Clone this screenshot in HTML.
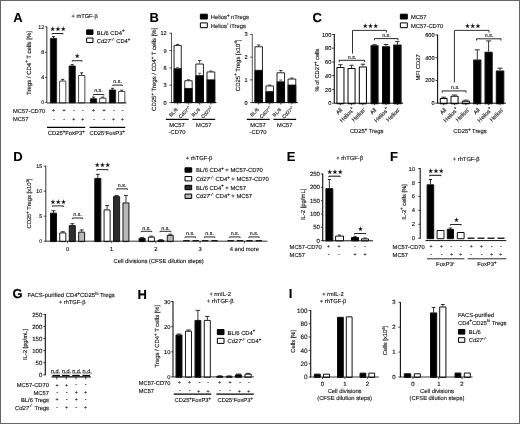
<!DOCTYPE html>
<html lang="en">
<head>
<meta charset="utf-8">
<title>Figure: CD27-CD70 Treg panels A-I</title>
<style>
html,body{margin:0;padding:0;background:#fff;}
body{width:520px;height:424px;overflow:hidden;position:relative;}
#fig{display:block;width:520px;height:424px;box-sizing:border-box;position:absolute;left:0;top:0;}
#frame{position:absolute;left:0;top:0;width:520px;height:424px;box-sizing:border-box;border:1px solid #666;pointer-events:none;}
</style>
</head>
<body>
<svg id="fig" width="520" height="424" viewBox="0 0 520 424" text-rendering="geometricPrecision">
<defs><filter id="soft" x="0" y="0" width="520" height="424" filterUnits="userSpaceOnUse"><feGaussianBlur stdDeviation="0.32"/></filter></defs>
<rect x="0" y="0" width="520" height="424" fill="#fff"/>
<g filter="url(#soft)" font-family="'Liberation Sans', Arial, Helvetica, sans-serif" fill="#111" stroke="#111" stroke-width="0.13" stroke-linejoin="round" id="plot">
<text x="13.3" y="22.38" font-size="13" font-weight="bold" fill="#000">A</text>
<text x="84.6" y="18.22" font-size="5.6" text-anchor="middle">+ rhTGF-β</text>
<line x1="46.8" y1="26.43" x2="46.8" y2="102.78" stroke="#111" stroke-width="0.85"/>
<line x1="45" y1="26.8" x2="46.8" y2="26.8" stroke="#111" stroke-width="0.75"/>
<text x="44.2" y="28.71" font-size="5.3" text-anchor="end">12</text>
<line x1="45" y1="52.3" x2="46.8" y2="52.3" stroke="#111" stroke-width="0.75"/>
<text x="44.2" y="54.21" font-size="5.3" text-anchor="end">8</text>
<line x1="45" y1="77.4" x2="46.8" y2="77.4" stroke="#111" stroke-width="0.75"/>
<text x="44.2" y="79.31" font-size="5.3" text-anchor="end">4</text>
<line x1="45" y1="102.4" x2="46.8" y2="102.4" stroke="#111" stroke-width="0.75"/>
<text x="44.2" y="104.31" font-size="5.3" text-anchor="end">0</text>
<line x1="53.5" y1="38" x2="53.5" y2="36.6" stroke="#111" stroke-width="0.85"/>
<line x1="52" y1="36.6" x2="55" y2="36.6" stroke="#111" stroke-width="0.85"/>
<rect x="50.38" y="38.38" width="6.25" height="64.53" fill="#000" stroke="#111" stroke-width="0.75"/>
<line x1="62.7" y1="80.7" x2="62.7" y2="79.4" stroke="#111" stroke-width="0.85"/>
<line x1="61.2" y1="79.4" x2="64.2" y2="79.4" stroke="#111" stroke-width="0.85"/>
<rect x="59.58" y="81.08" width="6.25" height="21.83" fill="#fff" stroke="#111" stroke-width="0.75"/>
<line x1="72.2" y1="65.6" x2="72.2" y2="64.6" stroke="#111" stroke-width="0.85"/>
<line x1="70.7" y1="64.6" x2="73.7" y2="64.6" stroke="#111" stroke-width="0.85"/>
<rect x="69.08" y="65.97" width="6.25" height="36.93" fill="#000" stroke="#111" stroke-width="0.75"/>
<line x1="81.7" y1="75.1" x2="81.7" y2="72.8" stroke="#111" stroke-width="0.85"/>
<line x1="80.2" y1="72.8" x2="83.2" y2="72.8" stroke="#111" stroke-width="0.85"/>
<rect x="78.58" y="75.47" width="6.25" height="27.43" fill="#fff" stroke="#111" stroke-width="0.75"/>
<line x1="93.5" y1="98.3" x2="93.5" y2="97.1" stroke="#111" stroke-width="0.85"/>
<line x1="92" y1="97.1" x2="95" y2="97.1" stroke="#111" stroke-width="0.85"/>
<rect x="90.38" y="98.67" width="6.25" height="4.23" fill="#000" stroke="#111" stroke-width="0.75"/>
<line x1="102.8" y1="97.8" x2="102.8" y2="97.1" stroke="#111" stroke-width="0.85"/>
<line x1="101.3" y1="97.1" x2="104.3" y2="97.1" stroke="#111" stroke-width="0.85"/>
<rect x="99.67" y="98.17" width="6.25" height="4.73" fill="#fff" stroke="#111" stroke-width="0.75"/>
<line x1="112.5" y1="89.6" x2="112.5" y2="88.3" stroke="#111" stroke-width="0.85"/>
<line x1="111" y1="88.3" x2="114" y2="88.3" stroke="#111" stroke-width="0.85"/>
<rect x="109.38" y="89.97" width="6.25" height="12.93" fill="#000" stroke="#111" stroke-width="0.75"/>
<line x1="121.7" y1="91.1" x2="121.7" y2="90.2" stroke="#111" stroke-width="0.85"/>
<line x1="120.2" y1="90.2" x2="123.2" y2="90.2" stroke="#111" stroke-width="0.85"/>
<rect x="118.58" y="91.47" width="6.25" height="11.43" fill="#fff" stroke="#111" stroke-width="0.75"/>
<line x1="46.8" y1="102.9" x2="126.5" y2="102.9" stroke="#111" stroke-width="0.9"/>
<text x="57.9" y="31.3" font-size="6.1" text-anchor="middle" letter-spacing="-0.2" font-family="DejaVu Sans, sans-serif">★★★</text>
<path d="M52.2 34.4 V33.5 H63 V34.4" fill="none" stroke="#111" stroke-width="0.9"/>
<text x="77.1" y="58.3" font-size="6.1" text-anchor="middle" letter-spacing="-0.2" font-family="DejaVu Sans, sans-serif">★</text>
<path d="M72.2 61.6 V60.7 H82 V61.6" fill="none" stroke="#111" stroke-width="0.9"/>
<text x="98.4" y="91.81" font-size="5.3" text-anchor="middle">n.s.</text>
<path d="M93.4 95.4 V94.5 H103.8 V95.4" fill="none" stroke="#111" stroke-width="0.9"/>
<text x="117.6" y="83.21" font-size="5.3" text-anchor="middle">n.s.</text>
<path d="M112.8 86 V85.1 H122.3 V86" fill="none" stroke="#111" stroke-width="0.9"/>
<rect x="86.65" y="29.9" width="6.35" height="4.5" fill="#000" stroke="#000" stroke-width="1"/>
<text x="96.8" y="34.79" font-size="5.8">BL/6 CD4<tspan dy="-2.38" font-size="4.23" font-weight="bold">+</tspan></text>
<rect x="86.65" y="38" width="6.35" height="4.5" fill="#fff" stroke="#000" stroke-width="1"/>
<text x="96.8" y="42.89" font-size="5.8"><tspan font-style="italic">Cd27</tspan><tspan dy="-2.38" font-size="4.23" font-style="italic">-/-</tspan><tspan dy="2.38"> CD4</tspan><tspan dy="-2.38" font-size="4.23" font-weight="bold">+</tspan></text>
<text font-size="6" text-anchor="middle" transform="translate(28.4 63) rotate(-90)" x="0" y="2.16">Tregs / CD4<tspan dy="-2.46" font-size="4.38" font-weight="bold">+</tspan><tspan dy="2.46"> T cells [%]</tspan></text>
<text x="13" y="112.69" font-size="5.8">MC57-CD70</text>
<text x="13" y="121.49" font-size="5.8">MC57</text>
<text x="53.4" y="112.15" font-size="5.2" text-anchor="middle">+</text>
<text x="64" y="112.15" font-size="5.2" text-anchor="middle">+</text>
<text x="74.2" y="111.8" font-size="5.2" text-anchor="middle">-</text>
<text x="82.9" y="111.8" font-size="5.2" text-anchor="middle">-</text>
<text x="93.4" y="112.15" font-size="5.2" text-anchor="middle">+</text>
<text x="104" y="112.15" font-size="5.2" text-anchor="middle">+</text>
<text x="114.2" y="111.8" font-size="5.2" text-anchor="middle">-</text>
<text x="122.5" y="111.8" font-size="5.2" text-anchor="middle">-</text>
<text x="54.2" y="120.6" font-size="5.2" text-anchor="middle">-</text>
<text x="64.2" y="120.6" font-size="5.2" text-anchor="middle">-</text>
<text x="73.8" y="120.95" font-size="5.2" text-anchor="middle">+</text>
<text x="82.7" y="120.95" font-size="5.2" text-anchor="middle">+</text>
<text x="94" y="120.6" font-size="5.2" text-anchor="middle">-</text>
<text x="104" y="120.6" font-size="5.2" text-anchor="middle">-</text>
<text x="113.4" y="120.95" font-size="5.2" text-anchor="middle">+</text>
<text x="122.3" y="120.95" font-size="5.2" text-anchor="middle">+</text>
<line x1="47" y1="127.4" x2="85.2" y2="127.4" stroke="#000" stroke-width="1.25"/>
<line x1="89.6" y1="127.4" x2="125.2" y2="127.4" stroke="#000" stroke-width="1.25"/>
<text x="66.2" y="135.42" font-size="5.9" text-anchor="middle">CD25<tspan dy="-2.42" font-size="4.31" font-weight="bold">+</tspan><tspan dy="2.42">FoxP3</tspan><tspan dy="-2.42" font-size="4.31" font-weight="bold">+</tspan></text>
<text x="107.2" y="135.39" font-size="5.8" text-anchor="middle">CD25<tspan dy="-2.38" font-size="4.23" font-weight="bold">-</tspan><tspan dy="2.38">FoxP3</tspan><tspan dy="-2.38" font-size="4.23" font-weight="bold">+</tspan></text>
<text x="149.4" y="22.38" font-size="13" font-weight="bold" fill="#000">B</text>
<rect x="200.35" y="14.2" width="6.95" height="4.8" fill="#000" stroke="#000" stroke-width="1"/>
<text x="210.8" y="18.99" font-size="5.8">Helios<tspan dy="-2.38" font-size="4.23" font-weight="bold">+</tspan><tspan dy="2.38"> nTregs</tspan></text>
<rect x="200.35" y="22.9" width="6.95" height="4.8" fill="#fff" stroke="#000" stroke-width="1"/>
<text x="210.8" y="27.59" font-size="5.8">Helios<tspan dy="-2.38" font-size="4.23" font-weight="bold">-</tspan><tspan dy="2.38"> iTregs</tspan></text>
<line x1="171.5" y1="32.83" x2="171.5" y2="102.97" stroke="#111" stroke-width="0.7"/>
<line x1="169.3" y1="33.2" x2="171.5" y2="33.2" stroke="#111" stroke-width="0.7"/>
<text x="166.7" y="35.22" font-size="5.6" text-anchor="end">12</text>
<line x1="169.3" y1="50.6" x2="171.5" y2="50.6" stroke="#111" stroke-width="0.7"/>
<text x="166.7" y="52.62" font-size="5.6" text-anchor="end">9</text>
<line x1="169.3" y1="67.9" x2="171.5" y2="67.9" stroke="#111" stroke-width="0.7"/>
<text x="166.7" y="69.92" font-size="5.6" text-anchor="end">6</text>
<line x1="169.3" y1="85.2" x2="171.5" y2="85.2" stroke="#111" stroke-width="0.7"/>
<text x="166.7" y="87.22" font-size="5.6" text-anchor="end">3</text>
<line x1="169.3" y1="102.6" x2="171.5" y2="102.6" stroke="#111" stroke-width="0.7"/>
<text x="166.7" y="104.62" font-size="5.6" text-anchor="end">0</text>
<line x1="177.65" y1="45" x2="177.65" y2="44.4" stroke="#111" stroke-width="0.7"/>
<line x1="176.05" y1="44.4" x2="179.25" y2="44.4" stroke="#111" stroke-width="0.8"/>
<rect x="174.05" y="45.45" width="7.2" height="57.15" fill="#fff" stroke="#111" stroke-width="0.9"/>
<rect x="174.05" y="68.75" width="7.2" height="33.85" fill="#000" stroke="#111" stroke-width="0.9"/>
<line x1="177.65" y1="68.3" x2="177.65" y2="67.4" stroke="#555" stroke-width="0.7"/>
<line x1="176.05" y1="67.4" x2="179.25" y2="67.4" stroke="#555" stroke-width="0.8"/>
<line x1="188.45" y1="80.3" x2="188.45" y2="79.8" stroke="#111" stroke-width="0.7"/>
<line x1="186.85" y1="79.8" x2="190.05" y2="79.8" stroke="#111" stroke-width="0.8"/>
<rect x="184.75" y="80.75" width="7.4" height="21.85" fill="#fff" stroke="#111" stroke-width="0.9"/>
<rect x="184.75" y="88.45" width="7.4" height="14.15" fill="#000" stroke="#111" stroke-width="0.9"/>
<line x1="199.65" y1="63.6" x2="199.65" y2="60.5" stroke="#111" stroke-width="0.7"/>
<line x1="198.05" y1="60.5" x2="201.25" y2="60.5" stroke="#111" stroke-width="0.8"/>
<rect x="195.85" y="64.05" width="7.6" height="38.55" fill="#fff" stroke="#111" stroke-width="0.9"/>
<rect x="195.85" y="75.65" width="7.6" height="26.95" fill="#000" stroke="#111" stroke-width="0.9"/>
<line x1="199.65" y1="75.2" x2="199.65" y2="73.2" stroke="#555" stroke-width="0.7"/>
<line x1="198.05" y1="73.2" x2="201.25" y2="73.2" stroke="#555" stroke-width="0.8"/>
<line x1="210.9" y1="71.5" x2="210.9" y2="71" stroke="#111" stroke-width="0.7"/>
<line x1="209.3" y1="71" x2="212.5" y2="71" stroke="#111" stroke-width="0.8"/>
<rect x="207.05" y="71.95" width="7.7" height="30.65" fill="#fff" stroke="#111" stroke-width="0.9"/>
<rect x="207.05" y="79.85" width="7.7" height="22.75" fill="#000" stroke="#111" stroke-width="0.9"/>
<line x1="171.5" y1="102.6" x2="216.5" y2="102.6" stroke="#111" stroke-width="1"/>
<text font-size="6" text-anchor="middle" transform="translate(154 69.3) rotate(-90)" x="0" y="2.16">CD25<tspan dy="-2.46" font-size="4.38" font-weight="bold">+</tspan><tspan dy="2.46"> Tregs / CD4</tspan><tspan dy="-2.46" font-size="4.38" font-weight="bold">+</tspan><tspan dy="2.46"> T cells [%]</tspan></text>
<line x1="252.3" y1="34.02" x2="252.3" y2="102.97" stroke="#111" stroke-width="0.7"/>
<line x1="250.1" y1="34.4" x2="252.3" y2="34.4" stroke="#111" stroke-width="0.7"/>
<text x="247.7" y="36.42" font-size="5.6" text-anchor="end">3</text>
<line x1="250.1" y1="57.2" x2="252.3" y2="57.2" stroke="#111" stroke-width="0.7"/>
<text x="247.7" y="59.22" font-size="5.6" text-anchor="end">2</text>
<line x1="250.1" y1="79.9" x2="252.3" y2="79.9" stroke="#111" stroke-width="0.7"/>
<text x="247.7" y="81.92" font-size="5.6" text-anchor="end">1</text>
<line x1="250.1" y1="102.6" x2="252.3" y2="102.6" stroke="#111" stroke-width="0.7"/>
<text x="247.7" y="104.62" font-size="5.6" text-anchor="end">0</text>
<line x1="258.7" y1="46.3" x2="258.7" y2="45" stroke="#111" stroke-width="0.7"/>
<line x1="257.1" y1="45" x2="260.3" y2="45" stroke="#111" stroke-width="0.8"/>
<rect x="254.95" y="46.75" width="7.5" height="55.85" fill="#fff" stroke="#111" stroke-width="0.9"/>
<rect x="254.95" y="70.35" width="7.5" height="32.25" fill="#000" stroke="#111" stroke-width="0.9"/>
<line x1="269.7" y1="85.5" x2="269.7" y2="85" stroke="#111" stroke-width="0.7"/>
<line x1="268.1" y1="85" x2="271.3" y2="85" stroke="#111" stroke-width="0.8"/>
<rect x="265.95" y="85.95" width="7.5" height="16.65" fill="#fff" stroke="#111" stroke-width="0.9"/>
<rect x="265.95" y="91.65" width="7.5" height="10.95" fill="#000" stroke="#111" stroke-width="0.9"/>
<line x1="280.8" y1="72.3" x2="280.8" y2="70.5" stroke="#111" stroke-width="0.7"/>
<line x1="279.2" y1="70.5" x2="282.4" y2="70.5" stroke="#111" stroke-width="0.8"/>
<rect x="277.05" y="72.75" width="7.5" height="29.85" fill="#fff" stroke="#111" stroke-width="0.9"/>
<rect x="277.05" y="81.85" width="7.5" height="20.75" fill="#000" stroke="#111" stroke-width="0.9"/>
<line x1="280.8" y1="81.4" x2="280.8" y2="80" stroke="#555" stroke-width="0.7"/>
<line x1="279.2" y1="80" x2="282.4" y2="80" stroke="#555" stroke-width="0.8"/>
<line x1="291.9" y1="78.6" x2="291.9" y2="78" stroke="#111" stroke-width="0.7"/>
<line x1="290.3" y1="78" x2="293.5" y2="78" stroke="#111" stroke-width="0.8"/>
<rect x="288.05" y="79.05" width="7.7" height="23.55" fill="#fff" stroke="#111" stroke-width="0.9"/>
<rect x="288.05" y="85.05" width="7.7" height="17.55" fill="#000" stroke="#111" stroke-width="0.9"/>
<line x1="252.3" y1="102.6" x2="297.8" y2="102.6" stroke="#111" stroke-width="1"/>
<text font-size="6" text-anchor="middle" transform="translate(237.7 65.3) rotate(-90)" x="0" y="2.16">CD25<tspan dy="-2.46" font-size="4.38" font-weight="bold">+</tspan><tspan dy="2.46"> Tregs [x10</tspan><tspan dy="-2.46" font-size="4.38">4</tspan><tspan dy="2.46">]</tspan></text>
<line x1="177.6" y1="102.6" x2="177.6" y2="104.4" stroke="#111" stroke-width="0.75"/>
<line x1="188.4" y1="102.6" x2="188.4" y2="104.4" stroke="#111" stroke-width="0.75"/>
<line x1="199.6" y1="102.6" x2="199.6" y2="104.4" stroke="#111" stroke-width="0.75"/>
<line x1="210.9" y1="102.6" x2="210.9" y2="104.4" stroke="#111" stroke-width="0.75"/>
<line x1="258.7" y1="102.6" x2="258.7" y2="104.4" stroke="#111" stroke-width="0.75"/>
<line x1="269.7" y1="102.6" x2="269.7" y2="104.4" stroke="#111" stroke-width="0.75"/>
<line x1="280.8" y1="102.6" x2="280.8" y2="104.4" stroke="#111" stroke-width="0.75"/>
<line x1="291.9" y1="102.6" x2="291.9" y2="104.4" stroke="#111" stroke-width="0.75"/>
<text font-size="4.9" text-anchor="end" transform="translate(175.6 107.4) rotate(-45)" x="0" y="3.53">BL/6</text>
<text font-size="4.8" text-anchor="end" transform="translate(188.6 105.8) rotate(-45)" x="0" y="3.46"><tspan font-style="italic">Cd27</tspan><tspan dy="-1.97" font-size="3.5" font-style="italic">-/-</tspan></text>
<text font-size="4.9" text-anchor="end" transform="translate(198.2 107.4) rotate(-45)" x="0" y="3.53">BL/6</text>
<text font-size="4.8" text-anchor="end" transform="translate(211 105.8) rotate(-45)" x="0" y="3.46"><tspan font-style="italic">Cd27</tspan><tspan dy="-1.97" font-size="3.5" font-style="italic">-/-</tspan></text>
<line x1="165.8" y1="119.4" x2="188.8" y2="119.4" stroke="#000" stroke-width="1.25"/>
<line x1="192.4" y1="119.4" x2="215.2" y2="119.4" stroke="#000" stroke-width="1.25"/>
<text x="177" y="127.09" font-size="5.8" text-anchor="middle">MC57</text>
<text x="177" y="134.09" font-size="5.8" text-anchor="middle">-CD70</text>
<text x="203.8" y="127.09" font-size="5.8" text-anchor="middle">MC57</text>
<text font-size="4.9" text-anchor="end" transform="translate(256.6 107.4) rotate(-45)" x="0" y="3.53">BL/6</text>
<text font-size="4.8" text-anchor="end" transform="translate(269.6 105.8) rotate(-45)" x="0" y="3.46"><tspan font-style="italic">Cd27</tspan><tspan dy="-1.97" font-size="3.5" font-style="italic">-/-</tspan></text>
<text font-size="4.9" text-anchor="end" transform="translate(279.2 107.4) rotate(-45)" x="0" y="3.53">BL/6</text>
<text font-size="4.8" text-anchor="end" transform="translate(292 105.8) rotate(-45)" x="0" y="3.46"><tspan font-style="italic">Cd27</tspan><tspan dy="-1.97" font-size="3.5" font-style="italic">-/-</tspan></text>
<line x1="246.8" y1="119.4" x2="269.8" y2="119.4" stroke="#000" stroke-width="1.25"/>
<line x1="273.4" y1="119.4" x2="296.2" y2="119.4" stroke="#000" stroke-width="1.25"/>
<text x="258" y="127.09" font-size="5.8" text-anchor="middle">MC57</text>
<text x="258" y="134.09" font-size="5.8" text-anchor="middle">-CD70</text>
<text x="284.8" y="127.09" font-size="5.8" text-anchor="middle">MC57</text>
<text x="312.5" y="22.38" font-size="13" font-weight="bold" fill="#000">C</text>
<rect x="400.35" y="14.2" width="6.95" height="4.8" fill="#000" stroke="#000" stroke-width="1"/>
<text x="411" y="18.99" font-size="5.8">MC57</text>
<rect x="400.35" y="22.9" width="6.95" height="4.8" fill="#fff" stroke="#000" stroke-width="1"/>
<text x="411" y="27.59" font-size="5.8">MC57-CD70</text>
<line x1="334.3" y1="34.12" x2="334.3" y2="103.58" stroke="#111" stroke-width="1.1"/>
<line x1="332.1" y1="34.5" x2="334.3" y2="34.5" stroke="#111" stroke-width="0.75"/>
<text x="331.3" y="36.52" font-size="5.6" text-anchor="end">100</text>
<line x1="332.1" y1="48.2" x2="334.3" y2="48.2" stroke="#111" stroke-width="0.75"/>
<text x="331.3" y="50.22" font-size="5.6" text-anchor="end">80</text>
<line x1="332.1" y1="62" x2="334.3" y2="62" stroke="#111" stroke-width="0.75"/>
<text x="331.3" y="64.02" font-size="5.6" text-anchor="end">60</text>
<line x1="332.1" y1="75.7" x2="334.3" y2="75.7" stroke="#111" stroke-width="0.75"/>
<text x="331.3" y="77.72" font-size="5.6" text-anchor="end">40</text>
<line x1="332.1" y1="89.5" x2="334.3" y2="89.5" stroke="#111" stroke-width="0.75"/>
<text x="331.3" y="91.52" font-size="5.6" text-anchor="end">20</text>
<line x1="332.1" y1="103.2" x2="334.3" y2="103.2" stroke="#111" stroke-width="0.75"/>
<text x="331.3" y="105.22" font-size="5.6" text-anchor="end">0</text>
<line x1="340.45" y1="67" x2="340.45" y2="64.7" stroke="#111" stroke-width="0.85"/>
<line x1="338.25" y1="64.7" x2="342.65" y2="64.7" stroke="#111" stroke-width="0.85"/>
<rect x="336.92" y="67.53" width="7.05" height="36.08" fill="#fff" stroke="#111" stroke-width="1.05"/>
<line x1="340.45" y1="103.2" x2="340.45" y2="105.2" stroke="#111" stroke-width="0.8"/>
<line x1="351.55" y1="68" x2="351.55" y2="65.3" stroke="#111" stroke-width="0.85"/>
<line x1="349.35" y1="65.3" x2="353.75" y2="65.3" stroke="#111" stroke-width="0.85"/>
<rect x="348.02" y="68.53" width="7.05" height="35.08" fill="#fff" stroke="#111" stroke-width="1.05"/>
<line x1="351.55" y1="103.2" x2="351.55" y2="105.2" stroke="#111" stroke-width="0.8"/>
<line x1="362.9" y1="66.4" x2="362.9" y2="64.2" stroke="#111" stroke-width="0.85"/>
<line x1="360.7" y1="64.2" x2="365.1" y2="64.2" stroke="#111" stroke-width="0.85"/>
<rect x="359.32" y="66.93" width="7.15" height="36.67" fill="#fff" stroke="#111" stroke-width="1.05"/>
<line x1="362.9" y1="103.2" x2="362.9" y2="105.2" stroke="#111" stroke-width="0.8"/>
<line x1="374.55" y1="45.2" x2="374.55" y2="44.7" stroke="#111" stroke-width="0.85"/>
<line x1="372.35" y1="44.7" x2="376.75" y2="44.7" stroke="#111" stroke-width="0.85"/>
<rect x="371.02" y="45.73" width="7.05" height="57.88" fill="#000" stroke="#111" stroke-width="1.05"/>
<line x1="374.55" y1="103.2" x2="374.55" y2="105.2" stroke="#111" stroke-width="0.8"/>
<line x1="386.05" y1="46.3" x2="386.05" y2="44.5" stroke="#111" stroke-width="0.85"/>
<line x1="383.85" y1="44.5" x2="388.25" y2="44.5" stroke="#111" stroke-width="0.85"/>
<rect x="382.52" y="46.82" width="7.05" height="56.78" fill="#000" stroke="#111" stroke-width="1.05"/>
<line x1="386.05" y1="103.2" x2="386.05" y2="105.2" stroke="#111" stroke-width="0.8"/>
<line x1="397.4" y1="44.6" x2="397.4" y2="41.6" stroke="#111" stroke-width="0.85"/>
<line x1="395.2" y1="41.6" x2="399.6" y2="41.6" stroke="#111" stroke-width="0.85"/>
<rect x="393.72" y="45.12" width="7.35" height="58.48" fill="#000" stroke="#111" stroke-width="1.05"/>
<line x1="397.4" y1="103.2" x2="397.4" y2="105.2" stroke="#111" stroke-width="0.8"/>
<line x1="334.3" y1="103.2" x2="403.2" y2="103.2" stroke="#111" stroke-width="1"/>
<path d="M339.2 62 V60.3 H364.6 V62" fill="none" stroke="#111" stroke-width="0.9"/>
<text x="352" y="59.41" font-size="5.3" text-anchor="middle">n.s.</text>
<path d="M374.4 40.3 V38.6 H398 V40.3" fill="none" stroke="#111" stroke-width="0.9"/>
<text x="386.4" y="37.01" font-size="5.3" text-anchor="middle">n.s.</text>
<path d="M352.5 53.6 V30.4 H386.5 V32.5" fill="none" stroke="#111" stroke-width="0.85"/>
<text x="370.3" y="28.3" font-size="6.1" text-anchor="middle" letter-spacing="-0.2" font-family="DejaVu Sans, sans-serif">★★★</text>
<text font-size="5.7" text-anchor="middle" transform="translate(316.9 70) rotate(-90)" x="0" y="2.05">% of CD27<tspan dy="-2.34" font-size="4.16" font-weight="bold">+</tspan><tspan dy="2.34"> cells</tspan></text>
<line x1="437.6" y1="34.62" x2="437.6" y2="103.58" stroke="#111" stroke-width="1.1"/>
<line x1="435.4" y1="35" x2="437.6" y2="35" stroke="#111" stroke-width="0.75"/>
<text x="434.6" y="37.02" font-size="5.6" text-anchor="end">600</text>
<line x1="435.4" y1="57.7" x2="437.6" y2="57.7" stroke="#111" stroke-width="0.75"/>
<text x="434.6" y="59.72" font-size="5.6" text-anchor="end">400</text>
<line x1="435.4" y1="80.4" x2="437.6" y2="80.4" stroke="#111" stroke-width="0.75"/>
<text x="434.6" y="82.42" font-size="5.6" text-anchor="end">200</text>
<line x1="435.4" y1="103.2" x2="437.6" y2="103.2" stroke="#111" stroke-width="0.75"/>
<text x="434.6" y="105.22" font-size="5.6" text-anchor="end">0</text>
<line x1="443.7" y1="97.9" x2="443.7" y2="97.2" stroke="#111" stroke-width="0.85"/>
<line x1="441.2" y1="97.2" x2="446.2" y2="97.2" stroke="#111" stroke-width="0.85"/>
<rect x="440.32" y="98.43" width="6.75" height="5.17" fill="#fff" stroke="#111" stroke-width="1.05"/>
<line x1="443.7" y1="103.2" x2="443.7" y2="105.2" stroke="#111" stroke-width="0.8"/>
<line x1="454.55" y1="95.7" x2="454.55" y2="95" stroke="#111" stroke-width="0.85"/>
<line x1="452.05" y1="95" x2="457.05" y2="95" stroke="#111" stroke-width="0.85"/>
<rect x="451.02" y="96.23" width="7.05" height="7.38" fill="#fff" stroke="#111" stroke-width="1.05"/>
<line x1="454.55" y1="103.2" x2="454.55" y2="105.2" stroke="#111" stroke-width="0.8"/>
<line x1="465.85" y1="100.7" x2="465.85" y2="100.2" stroke="#111" stroke-width="0.85"/>
<line x1="463.35" y1="100.2" x2="468.35" y2="100.2" stroke="#111" stroke-width="0.85"/>
<rect x="462.32" y="101.23" width="7.05" height="2.38" fill="#fff" stroke="#111" stroke-width="1.05"/>
<line x1="465.85" y1="103.2" x2="465.85" y2="105.2" stroke="#111" stroke-width="0.8"/>
<line x1="477.3" y1="59.6" x2="477.3" y2="49.8" stroke="#111" stroke-width="0.85"/>
<line x1="474.8" y1="49.8" x2="479.8" y2="49.8" stroke="#111" stroke-width="0.85"/>
<rect x="473.72" y="60.12" width="7.15" height="43.48" fill="#000" stroke="#111" stroke-width="1.05"/>
<line x1="477.3" y1="103.2" x2="477.3" y2="105.2" stroke="#111" stroke-width="0.8"/>
<line x1="488.6" y1="51.7" x2="488.6" y2="40.9" stroke="#111" stroke-width="0.85"/>
<line x1="486.1" y1="40.9" x2="491.1" y2="40.9" stroke="#111" stroke-width="0.85"/>
<rect x="485.02" y="52.23" width="7.15" height="51.38" fill="#000" stroke="#111" stroke-width="1.05"/>
<line x1="488.6" y1="103.2" x2="488.6" y2="105.2" stroke="#111" stroke-width="0.8"/>
<line x1="500.05" y1="70.5" x2="500.05" y2="68.2" stroke="#111" stroke-width="0.85"/>
<line x1="497.55" y1="68.2" x2="502.55" y2="68.2" stroke="#111" stroke-width="0.85"/>
<rect x="496.32" y="71.03" width="7.45" height="32.58" fill="#000" stroke="#111" stroke-width="1.05"/>
<line x1="500.05" y1="103.2" x2="500.05" y2="105.2" stroke="#111" stroke-width="0.8"/>
<line x1="437.6" y1="103.2" x2="505.8" y2="103.2" stroke="#111" stroke-width="1"/>
<path d="M442.2 92.6 V90.9 H466 V92.6" fill="none" stroke="#111" stroke-width="0.9"/>
<text x="455.3" y="89.01" font-size="5.3" text-anchor="middle">n.s.</text>
<path d="M476.5 40.5 V38.8 H501 V40.5" fill="none" stroke="#111" stroke-width="0.9"/>
<text x="489" y="37.01" font-size="5.3" text-anchor="middle">n.s.</text>
<path d="M454.4 82.4 V30.4 H489 V32.6" fill="none" stroke="#111" stroke-width="0.85"/>
<text x="472.7" y="28.3" font-size="6.1" text-anchor="middle" letter-spacing="-0.2" font-family="DejaVu Sans, sans-serif">★★★</text>
<text font-size="5.75" text-anchor="middle" transform="translate(418.4 67.5) rotate(-90)" x="0" y="2.07">MFI CD27</text>
<text font-size="5.6" text-anchor="end" transform="translate(339.7 107.5) rotate(-45)" x="0" y="4.03">All</text>
<text font-size="5.6" text-anchor="end" transform="translate(351.9 107.2) rotate(-45)" x="0" y="4.03">Helios<tspan dy="-2.3" font-size="4.09" font-weight="bold">+</tspan></text>
<text font-size="5.6" text-anchor="end" transform="translate(363.2 107.2) rotate(-45)" x="0" y="4.03">Helios<tspan dy="-2.3" font-size="4.09" font-weight="bold">-</tspan></text>
<text font-size="5.6" text-anchor="end" transform="translate(373.9 107.5) rotate(-45)" x="0" y="4.03">All</text>
<text font-size="5.6" text-anchor="end" transform="translate(386.3 107.2) rotate(-45)" x="0" y="4.03">Helios<tspan dy="-2.3" font-size="4.09" font-weight="bold">+</tspan></text>
<text font-size="5.6" text-anchor="end" transform="translate(397.7 107.2) rotate(-45)" x="0" y="4.03">Helios<tspan dy="-2.3" font-size="4.09" font-weight="bold">-</tspan></text>
<text font-size="5.6" text-anchor="end" transform="translate(443.8 107.5) rotate(-45)" x="0" y="4.03">All</text>
<text font-size="5.6" text-anchor="end" transform="translate(455.7 107.2) rotate(-45)" x="0" y="4.03">Helios<tspan dy="-2.3" font-size="4.09" font-weight="bold">+</tspan></text>
<text font-size="5.6" text-anchor="end" transform="translate(467 107.2) rotate(-45)" x="0" y="4.03">Helios<tspan dy="-2.3" font-size="4.09" font-weight="bold">-</tspan></text>
<text font-size="5.6" text-anchor="end" transform="translate(477.4 107.5) rotate(-45)" x="0" y="4.03">All</text>
<text font-size="5.6" text-anchor="end" transform="translate(489.7 107.2) rotate(-45)" x="0" y="4.03">Helios<tspan dy="-2.3" font-size="4.09" font-weight="bold">+</tspan></text>
<text font-size="5.6" text-anchor="end" transform="translate(501.1 107.2) rotate(-45)" x="0" y="4.03">Helios<tspan dy="-2.3" font-size="4.09" font-weight="bold">-</tspan></text>
<text x="366.6" y="133.09" font-size="5.8" text-anchor="middle">CD25<tspan dy="-2.38" font-size="4.23" font-weight="bold">+</tspan><tspan dy="2.38"> Tregs</tspan></text>
<text x="470" y="133.09" font-size="5.8" text-anchor="middle">CD25<tspan dy="-2.38" font-size="4.23" font-weight="bold">+</tspan><tspan dy="2.38"> Tregs</tspan></text>
<text x="13.3" y="161.28" font-size="13" font-weight="bold" fill="#000">D</text>
<line x1="45.8" y1="165.82" x2="45.8" y2="241.57" stroke="#111" stroke-width="0.85"/>
<line x1="43.8" y1="166.2" x2="45.8" y2="166.2" stroke="#111" stroke-width="0.75"/>
<text x="42.2" y="168.11" font-size="5.3" text-anchor="end">15</text>
<line x1="43.8" y1="191.2" x2="45.8" y2="191.2" stroke="#111" stroke-width="0.75"/>
<text x="42.2" y="193.11" font-size="5.3" text-anchor="end">10</text>
<line x1="43.8" y1="216.2" x2="45.8" y2="216.2" stroke="#111" stroke-width="0.75"/>
<text x="42.2" y="218.11" font-size="5.3" text-anchor="end">5</text>
<line x1="43.8" y1="241.2" x2="45.8" y2="241.2" stroke="#111" stroke-width="0.75"/>
<text x="42.2" y="243.11" font-size="5.3" text-anchor="end">0</text>
<text font-size="5.8" text-anchor="middle" transform="translate(28.8 203.5) rotate(-90)" x="0" y="2.09">CD25<tspan dy="-2.38" font-size="4.23" font-weight="bold">+</tspan><tspan dy="2.38"> Tregs [x10</tspan><tspan dy="-2.38" font-size="4.23">3</tspan><tspan dy="2.38">]</tspan></text>
<line x1="53.5" y1="212.7" x2="53.5" y2="210.7" stroke="#111" stroke-width="0.85"/>
<line x1="51.5" y1="210.7" x2="55.5" y2="210.7" stroke="#111" stroke-width="0.85"/>
<rect x="50.48" y="213.17" width="6.05" height="28.43" fill="#000" stroke="#111" stroke-width="0.95"/>
<line x1="62.8" y1="232.45" x2="62.8" y2="231.7" stroke="#111" stroke-width="0.85"/>
<line x1="60.8" y1="231.7" x2="64.8" y2="231.7" stroke="#111" stroke-width="0.85"/>
<rect x="59.77" y="232.92" width="6.05" height="8.68" fill="#fff" stroke="#111" stroke-width="0.95"/>
<line x1="72.3" y1="225.2" x2="72.3" y2="223.7" stroke="#111" stroke-width="0.85"/>
<line x1="70.3" y1="223.7" x2="74.3" y2="223.7" stroke="#111" stroke-width="0.85"/>
<rect x="69.27" y="225.67" width="6.05" height="15.93" fill="#2e2e2e" stroke="#111" stroke-width="0.95"/>
<line x1="81.65" y1="231.7" x2="81.65" y2="229.95" stroke="#111" stroke-width="0.85"/>
<line x1="79.65" y1="229.95" x2="83.65" y2="229.95" stroke="#111" stroke-width="0.85"/>
<rect x="78.67" y="232.17" width="5.95" height="9.43" fill="#b9b9b9" stroke="#111" stroke-width="0.95"/>
<line x1="97.8" y1="177.95" x2="97.8" y2="174.4" stroke="#111" stroke-width="0.85"/>
<line x1="95.8" y1="174.4" x2="99.8" y2="174.4" stroke="#111" stroke-width="0.85"/>
<rect x="94.77" y="178.42" width="6.05" height="63.18" fill="#000" stroke="#111" stroke-width="0.95"/>
<line x1="107.1" y1="209.45" x2="107.1" y2="205.45" stroke="#111" stroke-width="0.85"/>
<line x1="105.1" y1="205.45" x2="109.1" y2="205.45" stroke="#111" stroke-width="0.85"/>
<rect x="104.07" y="209.92" width="6.05" height="31.68" fill="#fff" stroke="#111" stroke-width="0.95"/>
<line x1="116.6" y1="196.2" x2="116.6" y2="195.45" stroke="#111" stroke-width="0.85"/>
<line x1="114.6" y1="195.45" x2="118.6" y2="195.45" stroke="#111" stroke-width="0.85"/>
<rect x="113.57" y="196.67" width="6.05" height="44.93" fill="#2e2e2e" stroke="#111" stroke-width="0.95"/>
<line x1="125.95" y1="202.45" x2="125.95" y2="195.45" stroke="#111" stroke-width="0.85"/>
<line x1="123.95" y1="195.45" x2="127.95" y2="195.45" stroke="#111" stroke-width="0.85"/>
<rect x="122.97" y="202.92" width="5.95" height="38.68" fill="#b9b9b9" stroke="#111" stroke-width="0.95"/>
<line x1="142.1" y1="237.95" x2="142.1" y2="237.45" stroke="#111" stroke-width="0.85"/>
<line x1="140.1" y1="237.45" x2="144.1" y2="237.45" stroke="#111" stroke-width="0.85"/>
<rect x="139.07" y="238.42" width="6.05" height="3.18" fill="#000" stroke="#111" stroke-width="0.95"/>
<line x1="151.4" y1="236.7" x2="151.4" y2="236.2" stroke="#111" stroke-width="0.85"/>
<line x1="149.4" y1="236.2" x2="153.4" y2="236.2" stroke="#111" stroke-width="0.85"/>
<rect x="148.37" y="237.17" width="6.05" height="4.43" fill="#fff" stroke="#111" stroke-width="0.95"/>
<line x1="160.9" y1="239.95" x2="160.9" y2="239.7" stroke="#111" stroke-width="0.85"/>
<line x1="158.9" y1="239.7" x2="162.9" y2="239.7" stroke="#111" stroke-width="0.85"/>
<rect x="157.87" y="240.42" width="6.05" height="1.18" fill="#2e2e2e" stroke="#111" stroke-width="0.95"/>
<line x1="170.25" y1="234.95" x2="170.25" y2="234.2" stroke="#111" stroke-width="0.85"/>
<line x1="168.25" y1="234.2" x2="172.25" y2="234.2" stroke="#111" stroke-width="0.85"/>
<rect x="167.28" y="235.42" width="5.95" height="6.18" fill="#b9b9b9" stroke="#111" stroke-width="0.95"/>
<line x1="45.8" y1="241.2" x2="267.4" y2="241.2" stroke="#111" stroke-width="0.85"/>
<line x1="67.5" y1="241.2" x2="67.5" y2="243.2" stroke="#111" stroke-width="0.75"/>
<text x="67.5" y="250.89" font-size="5.8" text-anchor="middle">0</text>
<line x1="111.7" y1="241.2" x2="111.7" y2="243.2" stroke="#111" stroke-width="0.75"/>
<text x="111.7" y="250.89" font-size="5.8" text-anchor="middle">1</text>
<line x1="155.9" y1="241.2" x2="155.9" y2="243.2" stroke="#111" stroke-width="0.75"/>
<text x="155.9" y="250.89" font-size="5.8" text-anchor="middle">2</text>
<line x1="200.1" y1="241.2" x2="200.1" y2="243.2" stroke="#111" stroke-width="0.75"/>
<text x="200.1" y="250.89" font-size="5.8" text-anchor="middle">3</text>
<line x1="244.3" y1="241.2" x2="244.3" y2="243.2" stroke="#111" stroke-width="0.75"/>
<text x="244.3" y="250.89" font-size="5.8" text-anchor="middle">4 and more</text>
<text x="158.6" y="263.29" font-size="5.8" text-anchor="middle">Cell divisions (CFSE dilution steps)</text>
<text x="58.2" y="203.5" font-size="6.1" text-anchor="middle" letter-spacing="-0.2" font-family="DejaVu Sans, sans-serif">★★★</text>
<path d="M52.4 206.8 V205.9 H63.4 V206.8" fill="none" stroke="#111" stroke-width="0.9"/>
<text x="77.6" y="216.41" font-size="5.3" text-anchor="middle">n.s.</text>
<path d="M72.6 218.9 V218 H82.6 V218.9" fill="none" stroke="#111" stroke-width="0.9"/>
<text x="102.5" y="167.3" font-size="6.1" text-anchor="middle" letter-spacing="-0.2" font-family="DejaVu Sans, sans-serif">★★★</text>
<path d="M96.8 170.5 V169.6 H108 V170.5" fill="none" stroke="#111" stroke-width="0.9"/>
<text x="122" y="187.01" font-size="5.3" text-anchor="middle">n.s.</text>
<path d="M116.8 189.7 V188.8 H127.5 V189.7" fill="none" stroke="#111" stroke-width="0.9"/>
<text x="146.5" y="229.81" font-size="5.3" text-anchor="middle">n.s.</text>
<path d="M141.2 232.2 V231.3 H151.8 V232.2" fill="none" stroke="#111" stroke-width="0.9"/>
<text x="165.5" y="229.81" font-size="5.3" text-anchor="middle">n.s.</text>
<path d="M160 232.2 V231.3 H170.8 V232.2" fill="none" stroke="#111" stroke-width="0.9"/>
<text x="190.3" y="235.41" font-size="5.3" text-anchor="middle">n.s.</text>
<path d="M185.1 237.8 V236.9 H195.5 V237.8" fill="none" stroke="#111" stroke-width="0.9"/>
<text x="209.6" y="235.41" font-size="5.3" text-anchor="middle">n.s.</text>
<path d="M204.4 237.8 V236.9 H214.8 V237.8" fill="none" stroke="#111" stroke-width="0.9"/>
<text x="234.9" y="235.41" font-size="5.3" text-anchor="middle">n.s.</text>
<path d="M229.7 237.8 V236.9 H240.1 V237.8" fill="none" stroke="#111" stroke-width="0.9"/>
<text x="254" y="235.41" font-size="5.3" text-anchor="middle">n.s.</text>
<path d="M248.8 237.8 V236.9 H259.2 V237.8" fill="none" stroke="#111" stroke-width="0.9"/>
<line x1="183.2" y1="240.7" x2="189.6" y2="240.7" stroke="#000" stroke-width="1.1"/>
<line x1="192.5" y1="240.7" x2="198.9" y2="240.7" stroke="#000" stroke-width="1.1"/>
<line x1="202" y1="240.7" x2="208.4" y2="240.7" stroke="#000" stroke-width="1.1"/>
<line x1="211.4" y1="240.7" x2="217.7" y2="240.7" stroke="#000" stroke-width="1.1"/>
<line x1="227.5" y1="240.7" x2="233.9" y2="240.7" stroke="#000" stroke-width="1.1"/>
<line x1="236.8" y1="240.7" x2="243.2" y2="240.7" stroke="#000" stroke-width="1.1"/>
<line x1="246.3" y1="240.7" x2="252.7" y2="240.7" stroke="#000" stroke-width="1.1"/>
<line x1="255.7" y1="240.7" x2="262" y2="240.7" stroke="#000" stroke-width="1.1"/>
<text x="185.8" y="160.35" font-size="5.7">+ rhTGF-β</text>
<rect x="185" y="167.8" width="6.7" height="4.4" fill="#000" stroke="#000" stroke-width="1"/>
<text x="195.9" y="172.21" font-size="5.85">BL/6 CD4<tspan dy="-2.4" font-size="4.27" font-weight="bold">+</tspan><tspan dy="2.4"> + MC57-CD70</tspan></text>
<rect x="185" y="176.55" width="6.7" height="4.4" fill="#fff" stroke="#000" stroke-width="1"/>
<text x="195.9" y="180.96" font-size="5.85"><tspan font-style="italic">Cd27</tspan><tspan dy="-2.4" font-size="4.27" font-style="italic">-/-</tspan><tspan dy="2.4"> CD4</tspan><tspan dy="-2.4" font-size="4.27" font-weight="bold">+</tspan><tspan dy="2.4"> + MC57-CD70</tspan></text>
<rect x="185" y="185.3" width="6.7" height="4.4" fill="#2e2e2e" stroke="#000" stroke-width="1"/>
<text x="195.9" y="189.71" font-size="5.85">BL/6 CD4<tspan dy="-2.4" font-size="4.27" font-weight="bold">+</tspan><tspan dy="2.4"> + MC57</tspan></text>
<rect x="185" y="194.05" width="6.7" height="4.4" fill="#b9b9b9" stroke="#000" stroke-width="1"/>
<text x="195.9" y="198.46" font-size="5.85"><tspan font-style="italic">Cd27</tspan><tspan dy="-2.4" font-size="4.27" font-style="italic">-/-</tspan><tspan dy="2.4"> CD4</tspan><tspan dy="-2.4" font-size="4.27" font-weight="bold">+</tspan><tspan dy="2.4"> + MC57</tspan></text>
<text x="286.7" y="161.28" font-size="13" font-weight="bold" fill="#000">E</text>
<text x="349.6" y="160.37" font-size="5.75" text-anchor="middle">+ rhTGF-β</text>
<line x1="322.7" y1="173.62" x2="322.7" y2="240.97" stroke="#111" stroke-width="1.1"/>
<line x1="320.9" y1="174" x2="322.7" y2="174" stroke="#111" stroke-width="0.75"/>
<text x="319.9" y="176.16" font-size="6" text-anchor="end">250</text>
<line x1="320.9" y1="187.3" x2="322.7" y2="187.3" stroke="#111" stroke-width="0.75"/>
<text x="319.9" y="189.46" font-size="6" text-anchor="end">200</text>
<line x1="320.9" y1="200.6" x2="322.7" y2="200.6" stroke="#111" stroke-width="0.75"/>
<text x="319.9" y="202.76" font-size="6" text-anchor="end">150</text>
<line x1="320.9" y1="214" x2="322.7" y2="214" stroke="#111" stroke-width="0.75"/>
<text x="319.9" y="216.16" font-size="6" text-anchor="end">100</text>
<line x1="320.9" y1="227.3" x2="322.7" y2="227.3" stroke="#111" stroke-width="0.75"/>
<text x="319.9" y="229.46" font-size="6" text-anchor="end">50</text>
<line x1="320.9" y1="240.6" x2="322.7" y2="240.6" stroke="#111" stroke-width="0.75"/>
<text x="319.9" y="242.76" font-size="6" text-anchor="end">0</text>
<line x1="329.35" y1="188.2" x2="329.35" y2="179.5" stroke="#111" stroke-width="0.85"/>
<line x1="327.75" y1="179.5" x2="330.95" y2="179.5" stroke="#111" stroke-width="0.85"/>
<rect x="325.9" y="188.7" width="6.9" height="52.2" fill="#000" stroke="#111" stroke-width="1"/>
<line x1="339.55" y1="235.6" x2="339.55" y2="235" stroke="#111" stroke-width="0.85"/>
<line x1="337.95" y1="235" x2="341.15" y2="235" stroke="#111" stroke-width="0.85"/>
<rect x="335.6" y="236.1" width="7.9" height="4.8" fill="#fff" stroke="#111" stroke-width="1"/>
<line x1="355" y1="237" x2="355" y2="236.4" stroke="#111" stroke-width="0.85"/>
<line x1="353.4" y1="236.4" x2="356.6" y2="236.4" stroke="#111" stroke-width="0.85"/>
<rect x="351.5" y="237.5" width="7" height="3.4" fill="#000" stroke="#111" stroke-width="1"/>
<line x1="365" y1="238.4" x2="365" y2="238" stroke="#111" stroke-width="0.85"/>
<line x1="363.4" y1="238" x2="366.6" y2="238" stroke="#111" stroke-width="0.85"/>
<rect x="361.5" y="238.9" width="7" height="2" fill="#fff" stroke="#111" stroke-width="1"/>
<line x1="322.7" y1="240.8" x2="373" y2="240.8" stroke="#111" stroke-width="1"/>
<text x="335" y="174.2" font-size="6.1" text-anchor="middle" letter-spacing="-0.2" font-family="DejaVu Sans, sans-serif">★★★</text>
<path d="M328.8 177.1 V176.2 H340 V177.1" fill="none" stroke="#111" stroke-width="1"/>
<text x="360.5" y="231.3" font-size="6.1" text-anchor="middle" letter-spacing="-0.2" font-family="DejaVu Sans, sans-serif">★</text>
<path d="M354.5 234.4 V233.5 H365.8 V234.4" fill="none" stroke="#111" stroke-width="0.9"/>
<text font-size="5.9" text-anchor="middle" transform="translate(302.8 204.4) rotate(-90)" x="0" y="2.12">IL-2 [pg/mL]</text>
<text x="289.6" y="249.09" font-size="5.8">MC57-CD70</text>
<text x="289.6" y="257.09" font-size="5.8">MC57</text>
<text x="328.6" y="248.35" font-size="5.2" text-anchor="middle">+</text>
<text x="339" y="248.35" font-size="5.2" text-anchor="middle">+</text>
<text x="355" y="248" font-size="5.2" text-anchor="middle">-</text>
<text x="365" y="248" font-size="5.2" text-anchor="middle">-</text>
<text x="328.6" y="255.8" font-size="5.2" text-anchor="middle">-</text>
<text x="339" y="255.8" font-size="5.2" text-anchor="middle">-</text>
<text x="355" y="256.15" font-size="5.2" text-anchor="middle">+</text>
<text x="365" y="256.15" font-size="5.2" text-anchor="middle">+</text>
<text x="390.1" y="161.28" font-size="13" font-weight="bold" fill="#000">F</text>
<text x="466.2" y="160.57" font-size="5.75" text-anchor="middle">+ rhTGF-β</text>
<line x1="420.2" y1="168.12" x2="420.2" y2="238.68" stroke="#111" stroke-width="1.1"/>
<line x1="418.2" y1="168.5" x2="420.2" y2="168.5" stroke="#111" stroke-width="0.75"/>
<text x="415" y="170.59" font-size="5.8" text-anchor="end">10</text>
<line x1="418.2" y1="182.5" x2="420.2" y2="182.5" stroke="#111" stroke-width="0.75"/>
<text x="415" y="184.59" font-size="5.8" text-anchor="end">8</text>
<line x1="418.2" y1="196.4" x2="420.2" y2="196.4" stroke="#111" stroke-width="0.75"/>
<text x="415" y="198.49" font-size="5.8" text-anchor="end">6</text>
<line x1="418.2" y1="210.4" x2="420.2" y2="210.4" stroke="#111" stroke-width="0.75"/>
<text x="415" y="212.49" font-size="5.8" text-anchor="end">4</text>
<line x1="418.2" y1="224.3" x2="420.2" y2="224.3" stroke="#111" stroke-width="0.75"/>
<text x="415" y="226.39" font-size="5.8" text-anchor="end">2</text>
<line x1="418.2" y1="238.3" x2="420.2" y2="238.3" stroke="#111" stroke-width="0.75"/>
<text x="415" y="240.39" font-size="5.8" text-anchor="end">0</text>
<line x1="430.4" y1="184.3" x2="430.4" y2="179.5" stroke="#111" stroke-width="0.85"/>
<line x1="428.8" y1="179.5" x2="432" y2="179.5" stroke="#111" stroke-width="0.85"/>
<rect x="427.1" y="184.8" width="6.6" height="53.9" fill="#000" stroke="#111" stroke-width="1"/>
<rect x="437.1" y="230.5" width="6.9" height="8.2" fill="#fff" stroke="#111" stroke-width="1"/>
<line x1="450.4" y1="228.8" x2="450.4" y2="228" stroke="#111" stroke-width="0.85"/>
<line x1="448.8" y1="228" x2="452" y2="228" stroke="#111" stroke-width="0.85"/>
<rect x="447.3" y="229.3" width="6.2" height="9.4" fill="#000" stroke="#111" stroke-width="1"/>
<rect x="457.3" y="232.5" width="6.8" height="6.2" fill="#fff" stroke="#111" stroke-width="1"/>
<line x1="467.5" y1="238.2" x2="474.5" y2="238.2" stroke="#000" stroke-width="1.25"/>
<line x1="477.5" y1="238.2" x2="484.5" y2="238.2" stroke="#000" stroke-width="1.25"/>
<line x1="487.5" y1="238.2" x2="494.5" y2="238.2" stroke="#000" stroke-width="1.25"/>
<line x1="497.5" y1="238.2" x2="504.5" y2="238.2" stroke="#000" stroke-width="1.25"/>
<line x1="425.5" y1="240.6" x2="506.3" y2="240.6" stroke="#111" stroke-width="1"/>
<text x="436" y="172.6" font-size="6.1" text-anchor="middle" letter-spacing="-0.2" font-family="DejaVu Sans, sans-serif">★★★</text>
<path d="M429.6 176.2 V175.3 H441 V176.2" fill="none" stroke="#111" stroke-width="1"/>
<text x="456.3" y="222.3" font-size="6.1" text-anchor="middle" letter-spacing="-0.2" font-family="DejaVu Sans, sans-serif">★</text>
<path d="M450.5 225.4 V224.5 H461.3 V225.4" fill="none" stroke="#111" stroke-width="0.9"/>
<text font-size="5.75" text-anchor="middle" transform="translate(403.5 202) rotate(-90)" x="0" y="2.07">IL-2<tspan dy="-2.36" font-size="4.2" font-weight="bold">+</tspan><tspan dy="2.36"> cells [%]</tspan></text>
<text x="392.6" y="248.59" font-size="5.8">MC57-CD70</text>
<text x="392.6" y="257.09" font-size="5.8">MC57</text>
<text x="431" y="247.95" font-size="5.2" text-anchor="middle">+</text>
<text x="441.6" y="247.95" font-size="5.2" text-anchor="middle">+</text>
<text x="451.4" y="247.6" font-size="5.2" text-anchor="middle">-</text>
<text x="460.8" y="247.6" font-size="5.2" text-anchor="middle">-</text>
<text x="471.2" y="247.95" font-size="5.2" text-anchor="middle">+</text>
<text x="481.6" y="247.95" font-size="5.2" text-anchor="middle">+</text>
<text x="491.6" y="247.6" font-size="5.2" text-anchor="middle">-</text>
<text x="500.8" y="247.6" font-size="5.2" text-anchor="middle">-</text>
<text x="431" y="255.8" font-size="5.2" text-anchor="middle">-</text>
<text x="441.6" y="255.8" font-size="5.2" text-anchor="middle">-</text>
<text x="451.4" y="256.15" font-size="5.2" text-anchor="middle">+</text>
<text x="460.8" y="256.15" font-size="5.2" text-anchor="middle">+</text>
<text x="471.2" y="255.8" font-size="5.2" text-anchor="middle">-</text>
<text x="481.6" y="255.8" font-size="5.2" text-anchor="middle">-</text>
<text x="491.6" y="256.15" font-size="5.2" text-anchor="middle">+</text>
<text x="500.8" y="256.15" font-size="5.2" text-anchor="middle">+</text>
<line x1="427" y1="258.8" x2="464.5" y2="258.8" stroke="#000" stroke-width="0.85"/>
<line x1="467.5" y1="258.8" x2="506.3" y2="258.8" stroke="#000" stroke-width="0.85"/>
<text x="445.2" y="266.49" font-size="5.8" text-anchor="middle">FoxP3<tspan dy="-2.38" font-size="4.23" font-weight="bold">-</tspan></text>
<text x="486.8" y="266.49" font-size="5.8" text-anchor="middle">FoxP3<tspan dy="-2.38" font-size="4.23" font-weight="bold">+</tspan></text>
<text x="12.5" y="298.28" font-size="13" font-weight="bold" fill="#000">G</text>
<text x="27.4" y="296.92" font-size="5.9">FACS-purified CD4<tspan dy="-2.42" font-size="4.31" font-weight="bold">+</tspan><tspan dy="2.42">CD25</tspan><tspan dy="-2.42" font-size="4.31">hi</tspan><tspan dy="2.42"> Tregs</tspan></text>
<text x="72.2" y="303.75" font-size="5.7" text-anchor="middle">+ rhTGF-β</text>
<line x1="45.3" y1="314.02" x2="45.3" y2="375.18" stroke="#111" stroke-width="1.1"/>
<line x1="43.3" y1="314.4" x2="45.3" y2="314.4" stroke="#111" stroke-width="0.75"/>
<text x="42.3" y="316.56" font-size="6" text-anchor="end">250</text>
<line x1="43.3" y1="326.5" x2="45.3" y2="326.5" stroke="#111" stroke-width="0.75"/>
<text x="42.3" y="328.66" font-size="6" text-anchor="end">200</text>
<line x1="43.3" y1="338.6" x2="45.3" y2="338.6" stroke="#111" stroke-width="0.75"/>
<text x="42.3" y="340.76" font-size="6" text-anchor="end">150</text>
<line x1="43.3" y1="350.6" x2="45.3" y2="350.6" stroke="#111" stroke-width="0.75"/>
<text x="42.3" y="352.76" font-size="6" text-anchor="end">100</text>
<line x1="43.3" y1="362.7" x2="45.3" y2="362.7" stroke="#111" stroke-width="0.75"/>
<text x="42.3" y="364.86" font-size="6" text-anchor="end">50</text>
<line x1="43.3" y1="374.8" x2="45.3" y2="374.8" stroke="#111" stroke-width="0.75"/>
<text x="42.3" y="376.96" font-size="6" text-anchor="end">0</text>
<text font-size="5.75" text-anchor="middle" transform="translate(24.7 344.6) rotate(-90)" x="0" y="2.07">IL-2 [pg/mL]</text>
<line x1="51.6" y1="376.9" x2="90.8" y2="376.9" stroke="#000" stroke-width="1.2"/>
<line x1="52.4" y1="375.4" x2="60" y2="375.4" stroke="#000" stroke-width="1.1"/>
<line x1="62" y1="375.4" x2="69.6" y2="375.4" stroke="#000" stroke-width="1.1"/>
<line x1="72.2" y1="375.4" x2="79.8" y2="375.4" stroke="#000" stroke-width="1.1"/>
<line x1="82.4" y1="375.4" x2="90" y2="375.4" stroke="#000" stroke-width="1.1"/>
<line x1="56.7" y1="377" x2="56.7" y2="379.3" stroke="#111" stroke-width="0.8"/>
<line x1="66.2" y1="377" x2="66.2" y2="379.3" stroke="#111" stroke-width="0.8"/>
<line x1="76" y1="377" x2="76" y2="379.3" stroke="#111" stroke-width="0.8"/>
<line x1="85.7" y1="377" x2="85.7" y2="379.3" stroke="#111" stroke-width="0.8"/>
<text x="55.5" y="372.88" font-size="5.5" text-anchor="middle">n.d.</text>
<line x1="50.8" y1="373.3" x2="60.2" y2="373.3" stroke="#444" stroke-width="0.5"/>
<text x="66.5" y="372.88" font-size="5.5" text-anchor="middle">n.d.</text>
<line x1="61.8" y1="373.3" x2="71.2" y2="373.3" stroke="#444" stroke-width="0.5"/>
<text x="76.8" y="372.88" font-size="5.5" text-anchor="middle">n.d.</text>
<line x1="72.1" y1="373.3" x2="81.5" y2="373.3" stroke="#444" stroke-width="0.5"/>
<text x="87.2" y="372.88" font-size="5.5" text-anchor="middle">n.d.</text>
<line x1="82.5" y1="373.3" x2="91.9" y2="373.3" stroke="#444" stroke-width="0.5"/>
<text x="49" y="387.29" font-size="5.8" text-anchor="end">MC57-CD70</text>
<text x="49" y="394.74" font-size="5.8" text-anchor="end">MC57</text>
<text x="49" y="402.19" font-size="5.8" text-anchor="end">BL/6 Tregs</text>
<text x="49" y="409.64" font-size="5.8" text-anchor="end"><tspan font-style="italic">Cd27</tspan><tspan dy="-2.38" font-size="4.23" font-style="italic">-/-</tspan><tspan dy="2.38"> Tregs</tspan></text>
<text x="57" y="386.55" font-size="5.2" text-anchor="middle">+</text>
<text x="66.5" y="386.55" font-size="5.2" text-anchor="middle">+</text>
<text x="76.2" y="386.2" font-size="5.2" text-anchor="middle">-</text>
<text x="85.5" y="386.2" font-size="5.2" text-anchor="middle">-</text>
<text x="57" y="393.65" font-size="5.2" text-anchor="middle">-</text>
<text x="66.5" y="393.65" font-size="5.2" text-anchor="middle">-</text>
<text x="76.2" y="394" font-size="5.2" text-anchor="middle">+</text>
<text x="85.5" y="394" font-size="5.2" text-anchor="middle">+</text>
<text x="57" y="401.45" font-size="5.2" text-anchor="middle">+</text>
<text x="66.5" y="401.1" font-size="5.2" text-anchor="middle">-</text>
<text x="76.2" y="401.45" font-size="5.2" text-anchor="middle">+</text>
<text x="85.5" y="401.1" font-size="5.2" text-anchor="middle">-</text>
<text x="57" y="408.55" font-size="5.2" text-anchor="middle">-</text>
<text x="66.5" y="408.9" font-size="5.2" text-anchor="middle">+</text>
<text x="76.2" y="408.55" font-size="5.2" text-anchor="middle">-</text>
<text x="85.5" y="408.9" font-size="5.2" text-anchor="middle">+</text>
<text x="137.5" y="298.88" font-size="13" font-weight="bold" fill="#000">H</text>
<text x="220.2" y="296.27" font-size="5.75" text-anchor="middle">+ rmIL-2</text>
<text x="220.2" y="303.47" font-size="5.75" text-anchor="middle">+ rhTGF-β</text>
<line x1="173" y1="301.12" x2="173" y2="377.27" stroke="#111" stroke-width="1.1"/>
<line x1="171.2" y1="301.5" x2="173" y2="301.5" stroke="#111" stroke-width="0.75"/>
<text x="170.5" y="303.59" font-size="5.8" text-anchor="end">30</text>
<line x1="171.2" y1="326.6" x2="173" y2="326.6" stroke="#111" stroke-width="0.75"/>
<text x="170.5" y="328.69" font-size="5.8" text-anchor="end">20</text>
<line x1="171.2" y1="351.8" x2="173" y2="351.8" stroke="#111" stroke-width="0.75"/>
<text x="170.5" y="353.89" font-size="5.8" text-anchor="end">10</text>
<line x1="171.2" y1="376.9" x2="173" y2="376.9" stroke="#111" stroke-width="0.75"/>
<text x="170.5" y="378.99" font-size="5.8" text-anchor="end">0</text>
<line x1="179" y1="334.56" x2="179" y2="334.06" stroke="#111" stroke-width="0.85"/>
<line x1="176.7" y1="334.06" x2="181.3" y2="334.06" stroke="#111" stroke-width="0.85"/>
<rect x="175.97" y="335.04" width="6.05" height="42.26" fill="#000" stroke="#111" stroke-width="0.95"/>
<line x1="188.5" y1="330.78" x2="188.5" y2="330.03" stroke="#111" stroke-width="0.85"/>
<line x1="186.2" y1="330.03" x2="190.8" y2="330.03" stroke="#111" stroke-width="0.85"/>
<rect x="185.47" y="331.26" width="6.05" height="46.04" fill="#fff" stroke="#111" stroke-width="0.95"/>
<line x1="197.9" y1="319.95" x2="197.9" y2="310.37" stroke="#111" stroke-width="0.85"/>
<line x1="195.6" y1="310.37" x2="200.2" y2="310.37" stroke="#111" stroke-width="0.85"/>
<rect x="194.97" y="320.42" width="5.85" height="56.88" fill="#000" stroke="#111" stroke-width="0.95"/>
<line x1="207.3" y1="319.95" x2="207.3" y2="316.42" stroke="#111" stroke-width="0.85"/>
<line x1="205" y1="316.42" x2="209.6" y2="316.42" stroke="#111" stroke-width="0.85"/>
<rect x="204.28" y="320.42" width="6.05" height="56.88" fill="#fff" stroke="#111" stroke-width="0.95"/>
<line x1="219.8" y1="376.02" x2="219.8" y2="375.77" stroke="#111" stroke-width="0.85"/>
<line x1="217.5" y1="375.77" x2="222.1" y2="375.77" stroke="#111" stroke-width="0.85"/>
<rect x="216.78" y="376.49" width="6.05" height="0.81" fill="#000" stroke="#111" stroke-width="0.95"/>
<line x1="229.15" y1="376.14" x2="229.15" y2="375.89" stroke="#111" stroke-width="0.85"/>
<line x1="226.85" y1="375.89" x2="231.45" y2="375.89" stroke="#111" stroke-width="0.85"/>
<rect x="226.28" y="376.62" width="5.75" height="0.68" fill="#fff" stroke="#111" stroke-width="0.95"/>
<line x1="238.5" y1="374.38" x2="238.5" y2="374" stroke="#111" stroke-width="0.85"/>
<line x1="236.2" y1="374" x2="240.8" y2="374" stroke="#111" stroke-width="0.85"/>
<rect x="235.47" y="374.86" width="6.05" height="2.44" fill="#000" stroke="#111" stroke-width="0.95"/>
<line x1="248.1" y1="373.75" x2="248.1" y2="373.37" stroke="#111" stroke-width="0.85"/>
<line x1="245.8" y1="373.37" x2="250.4" y2="373.37" stroke="#111" stroke-width="0.85"/>
<rect x="244.97" y="374.23" width="6.25" height="3.07" fill="#fff" stroke="#111" stroke-width="0.95"/>
<line x1="173.3" y1="376.9" x2="253.8" y2="376.9" stroke="#111" stroke-width="0.85"/>
<rect x="217.35" y="329.5" width="6.65" height="5.1" fill="#000" stroke="#000" stroke-width="1"/>
<text x="227.6" y="334.69" font-size="5.8">BL/6 CD4<tspan dy="-2.38" font-size="4.23" font-weight="bold">+</tspan></text>
<rect x="217.35" y="338.3" width="6.65" height="5.1" fill="#fff" stroke="#000" stroke-width="1"/>
<text x="227.6" y="343.39" font-size="5.8"><tspan font-style="italic">Cd27</tspan><tspan dy="-2.38" font-size="4.23" font-style="italic">-/-</tspan><tspan dy="2.38"> CD4</tspan><tspan dy="-2.38" font-size="4.23" font-weight="bold">+</tspan></text>
<text font-size="5.9" text-anchor="middle" transform="translate(157.2 336.1) rotate(-90)" x="0" y="2.12">Tregs  / CD4<tspan dy="-2.42" font-size="4.31" font-weight="bold">+</tspan><tspan dy="2.42"> T cells [%]</tspan></text>
<text x="138.8" y="384.85" font-size="5.7">MC57-CD70</text>
<text x="138.8" y="393.05" font-size="5.7">MC57</text>
<text x="179.3" y="384.35" font-size="5.2" text-anchor="middle">+</text>
<text x="189.5" y="384.35" font-size="5.2" text-anchor="middle">+</text>
<text x="199.5" y="384" font-size="5.2" text-anchor="middle">-</text>
<text x="208" y="384" font-size="5.2" text-anchor="middle">-</text>
<text x="219.5" y="384.35" font-size="5.2" text-anchor="middle">+</text>
<text x="230" y="384.35" font-size="5.2" text-anchor="middle">+</text>
<text x="240" y="384" font-size="5.2" text-anchor="middle">-</text>
<text x="248.8" y="384" font-size="5.2" text-anchor="middle">-</text>
<text x="180" y="392.2" font-size="5.2" text-anchor="middle">-</text>
<text x="189.5" y="392.2" font-size="5.2" text-anchor="middle">-</text>
<text x="198.8" y="392.55" font-size="5.2" text-anchor="middle">+</text>
<text x="208" y="392.55" font-size="5.2" text-anchor="middle">+</text>
<text x="220" y="392.2" font-size="5.2" text-anchor="middle">-</text>
<text x="230" y="392.2" font-size="5.2" text-anchor="middle">-</text>
<text x="239.3" y="392.55" font-size="5.2" text-anchor="middle">+</text>
<text x="248.8" y="392.55" font-size="5.2" text-anchor="middle">+</text>
<line x1="173.6" y1="394.2" x2="211.4" y2="394.2" stroke="#000" stroke-width="1.25"/>
<line x1="216.3" y1="394.2" x2="253.8" y2="394.2" stroke="#000" stroke-width="1.25"/>
<text x="192.8" y="401.89" font-size="5.8" text-anchor="middle">CD25<tspan dy="-2.38" font-size="4.23" font-weight="bold">+</tspan><tspan dy="2.38">FoxP3</tspan><tspan dy="-2.38" font-size="4.23" font-weight="bold">+</tspan></text>
<text x="235.2" y="401.89" font-size="5.8" text-anchor="middle">CD25<tspan dy="-2.38" font-size="4.23" font-weight="bold">-</tspan><tspan dy="2.38">FoxP3</tspan><tspan dy="-2.38" font-size="4.23" font-weight="bold">+</tspan></text>
<text x="288.7" y="297.68" font-size="13" font-weight="bold" fill="#000">I</text>
<text x="332.9" y="296.25" font-size="5.7" text-anchor="middle">+ rmIL-2</text>
<text x="333.1" y="303.45" font-size="5.7" text-anchor="middle">+ rhTGF-β</text>
<line x1="310.7" y1="310.02" x2="310.7" y2="377.38" stroke="#111" stroke-width="1.1"/>
<line x1="308.7" y1="310.4" x2="310.7" y2="310.4" stroke="#111" stroke-width="0.75"/>
<text x="307.5" y="312.69" font-size="6.35" text-anchor="end">100</text>
<line x1="308.7" y1="323.7" x2="310.7" y2="323.7" stroke="#111" stroke-width="0.75"/>
<text x="307.5" y="325.99" font-size="6.35" text-anchor="end">80</text>
<line x1="308.7" y1="337" x2="310.7" y2="337" stroke="#111" stroke-width="0.75"/>
<text x="307.5" y="339.29" font-size="6.35" text-anchor="end">60</text>
<line x1="308.7" y1="350.4" x2="310.7" y2="350.4" stroke="#111" stroke-width="0.75"/>
<text x="307.5" y="352.69" font-size="6.35" text-anchor="end">40</text>
<line x1="308.7" y1="363.7" x2="310.7" y2="363.7" stroke="#111" stroke-width="0.75"/>
<text x="307.5" y="365.99" font-size="6.35" text-anchor="end">20</text>
<line x1="308.7" y1="377" x2="310.7" y2="377" stroke="#111" stroke-width="0.75"/>
<text x="307.5" y="379.29" font-size="6.35" text-anchor="end">0</text>
<rect x="314.3" y="374.17" width="6" height="3.23" fill="#000" stroke="#111" stroke-width="1"/>
<rect x="323.5" y="374.17" width="6" height="3.23" fill="#fff" stroke="#111" stroke-width="1"/>
<rect x="337.5" y="317.29" width="5.8" height="60.11" fill="#000" stroke="#111" stroke-width="1"/>
<rect x="346.3" y="316.89" width="5.8" height="60.51" fill="#fff" stroke="#111" stroke-width="1"/>
<rect x="360" y="373.17" width="5.8" height="4.23" fill="#000" stroke="#111" stroke-width="1"/>
<rect x="368.8" y="373.17" width="5.8" height="4.23" fill="#fff" stroke="#111" stroke-width="1"/>
<line x1="310.8" y1="377" x2="378.8" y2="377" stroke="#111" stroke-width="0.85"/>
<line x1="322.4" y1="377" x2="322.4" y2="379" stroke="#111" stroke-width="0.75"/>
<text x="322.4" y="385.56" font-size="6" text-anchor="middle">0</text>
<line x1="344.9" y1="377" x2="344.9" y2="379" stroke="#111" stroke-width="0.75"/>
<text x="344.9" y="385.56" font-size="6" text-anchor="middle">1</text>
<line x1="367.3" y1="377" x2="367.3" y2="379" stroke="#111" stroke-width="0.75"/>
<text x="367.3" y="385.56" font-size="6" text-anchor="middle">2</text>
<text font-size="5.8" text-anchor="middle" transform="translate(293.2 341.3) rotate(-90)" x="0" y="2.09">Cells [%]</text>
<text x="344.6" y="393.29" font-size="5.8" text-anchor="middle">Cell divisions</text>
<text x="344.6" y="400.29" font-size="5.8" text-anchor="middle">(CFSE dilution steps)</text>
<line x1="400.4" y1="301.93" x2="400.4" y2="377.38" stroke="#111" stroke-width="1.1"/>
<line x1="398.4" y1="302.3" x2="400.4" y2="302.3" stroke="#111" stroke-width="0.75"/>
<text x="395.6" y="304.46" font-size="6" text-anchor="end">3</text>
<line x1="398.4" y1="327.2" x2="400.4" y2="327.2" stroke="#111" stroke-width="0.75"/>
<text x="395.6" y="329.36" font-size="6" text-anchor="end">2</text>
<line x1="398.4" y1="352.1" x2="400.4" y2="352.1" stroke="#111" stroke-width="0.75"/>
<text x="395.6" y="354.26" font-size="6" text-anchor="end">1</text>
<line x1="398.4" y1="377" x2="400.4" y2="377" stroke="#111" stroke-width="0.75"/>
<text x="395.6" y="379.16" font-size="6" text-anchor="end">0</text>
<rect x="404.3" y="373.77" width="6.4" height="3.62" fill="#000" stroke="#111" stroke-width="1"/>
<rect x="414.3" y="373.77" width="6" height="3.62" fill="#fff" stroke="#111" stroke-width="1"/>
<line x1="433.6" y1="312.43" x2="433.6" y2="307.47" stroke="#111" stroke-width="0.85"/>
<line x1="431.7" y1="307.47" x2="435.5" y2="307.47" stroke="#111" stroke-width="0.85"/>
<rect x="430.5" y="312.93" width="6.2" height="64.47" fill="#000" stroke="#111" stroke-width="1"/>
<line x1="442.8" y1="306.47" x2="442.8" y2="304.49" stroke="#111" stroke-width="0.85"/>
<line x1="440.9" y1="304.49" x2="444.7" y2="304.49" stroke="#111" stroke-width="0.85"/>
<rect x="439.7" y="306.97" width="6.2" height="70.43" fill="#fff" stroke="#111" stroke-width="1"/>
<rect x="455" y="373.03" width="5.8" height="4.37" fill="#000" stroke="#111" stroke-width="1"/>
<rect x="464.3" y="373.03" width="6" height="4.37" fill="#fff" stroke="#111" stroke-width="1"/>
<line x1="400.8" y1="377" x2="472.5" y2="377" stroke="#111" stroke-width="0.85"/>
<line x1="412.9" y1="377" x2="412.9" y2="379" stroke="#111" stroke-width="0.75"/>
<text x="412.9" y="385.56" font-size="6" text-anchor="middle">0</text>
<line x1="438.8" y1="377" x2="438.8" y2="379" stroke="#111" stroke-width="0.75"/>
<text x="438.8" y="385.56" font-size="6" text-anchor="middle">1</text>
<line x1="462" y1="377" x2="462" y2="379" stroke="#111" stroke-width="0.75"/>
<text x="462" y="385.56" font-size="6" text-anchor="middle">2</text>
<text font-size="5.8" text-anchor="middle" transform="translate(385.4 340.5) rotate(-90)" x="0" y="2.09">Cells [x10<tspan dy="-2.38" font-size="4.23">4</tspan><tspan dy="2.38">]</tspan></text>
<text x="437" y="393.29" font-size="5.8" text-anchor="middle">Cell divisions</text>
<text x="437" y="400.29" font-size="5.8" text-anchor="middle">(CFSE dilution steps)</text>
<text x="458" y="317.09" font-size="5.8">FACS-purified</text>
<text x="458" y="324.69" font-size="5.8">CD4<tspan dy="-2.38" font-size="4.23" font-weight="bold">+</tspan><tspan dy="2.38">CD25</tspan><tspan dy="-2.38" font-size="4.23">hi</tspan><tspan dy="2.38"> Tregs</tspan></text>
<rect x="458.45" y="329.5" width="6.35" height="4.6" fill="#000" stroke="#000" stroke-width="1"/>
<text x="468.8" y="333.99" font-size="5.8">BL/6</text>
<rect x="458.45" y="337.7" width="6.35" height="4.6" fill="#fff" stroke="#000" stroke-width="1"/>
<text x="468.8" y="342.29" font-size="5.8"><tspan font-style="italic">Cd27</tspan><tspan dy="-2.38" font-size="4.23" font-style="italic">-/-</tspan></text>
</g>
</svg>
<div id="frame"></div>
</body>
</html>
